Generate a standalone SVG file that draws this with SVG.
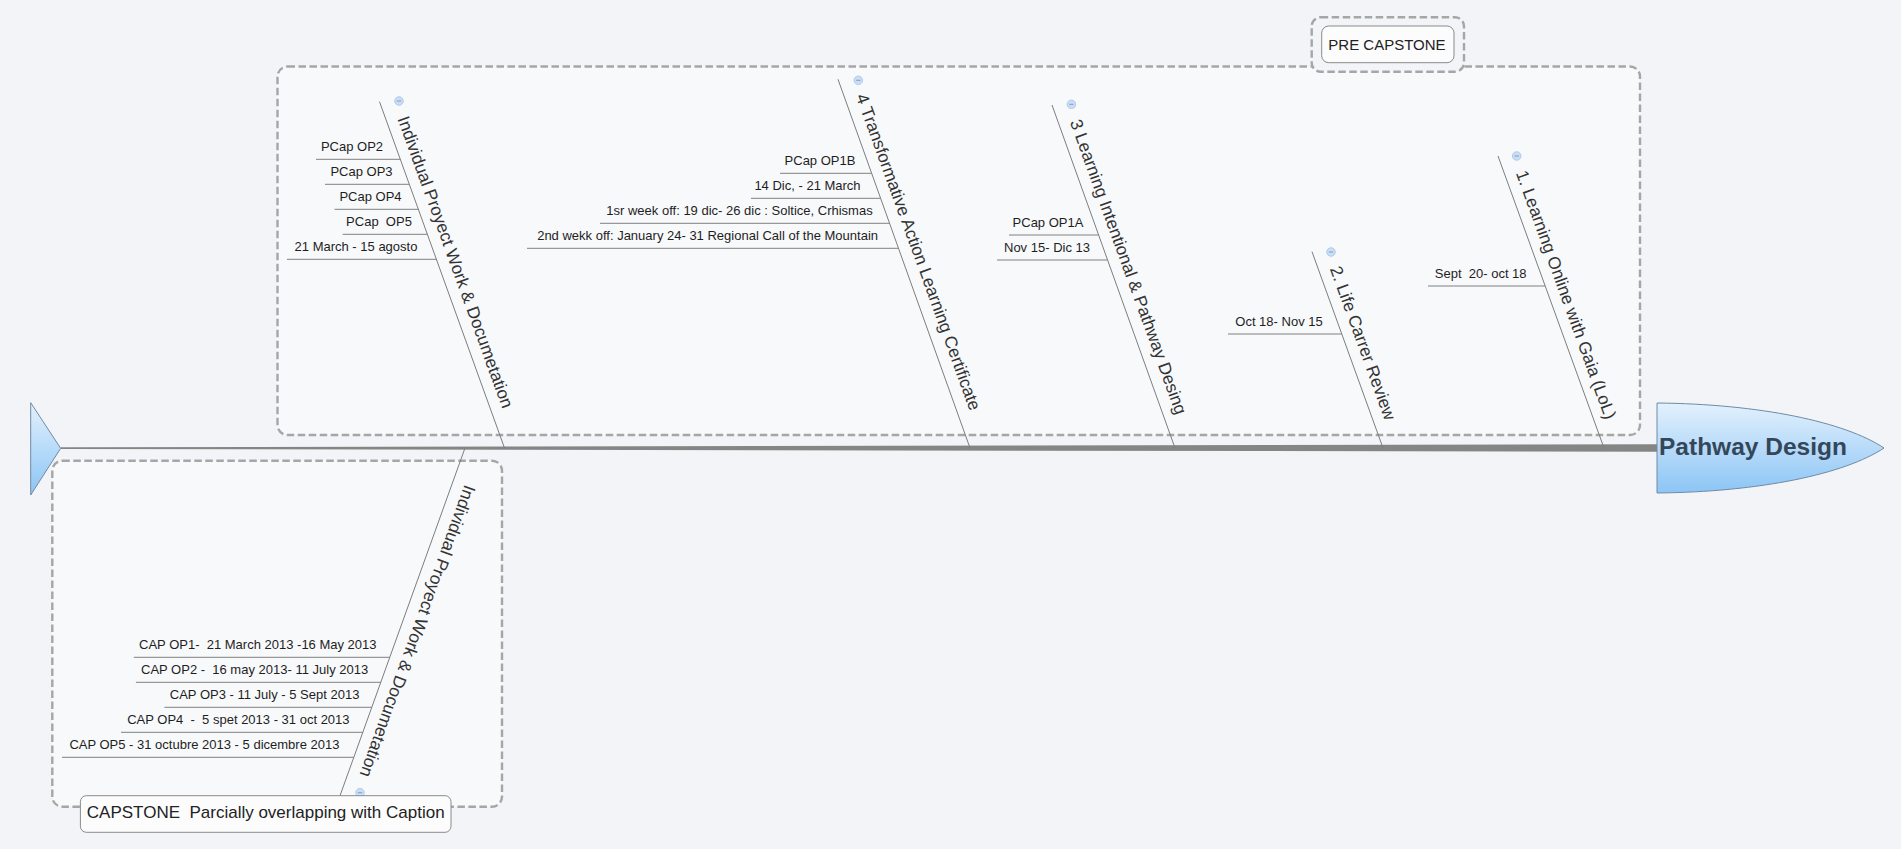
<svg xmlns="http://www.w3.org/2000/svg" width="1901" height="849" viewBox="0 0 1901 849">
<style>
.bg{fill:#f3f4f7}
.zone{fill:#f8f9fb;stroke:#a6a6a6;stroke-width:2.4;stroke-dasharray:7.5 3.5}
.zone2{fill:#f3f4f7;stroke:#a6a6a6;stroke-width:2.4;stroke-dasharray:7.5 3.5}
.cap{fill:#fcfcfd;stroke:#8a8a8a;stroke-width:1}
.bone{stroke:#7d7d7d;stroke-width:1;fill:none}
.sub{stroke:#808080;stroke-width:1;fill:none}
.t{font-family:"Liberation Sans",Arial,sans-serif;font-size:13px;fill:#1e1e1e;text-anchor:middle}
.b{font-family:"Liberation Sans",Arial,sans-serif;font-size:17.3px;fill:#333}
.c{font-family:"Liberation Sans",Arial,sans-serif;fill:#222;text-anchor:middle}
.m{fill:#c9ddf5;stroke:#a7c3e6;stroke-width:0.8}
.md{stroke:#6f8fb8;stroke-width:0.8}
.shape{fill:url(#blue);stroke:#6f8aa6;stroke-width:1}
</style>
<defs>
<linearGradient id="blue" x1="0" y1="0" x2="0" y2="1">
<stop offset="0" stop-color="#e3f1fd"/>
<stop offset="1" stop-color="#8cc5f5"/>
</linearGradient>
</defs>
<rect class="bg" x="0" y="0" width="1901" height="849"/>
<g id="zone-precapstone-area"><rect class="zone" x="277.5" y="66.5" width="1362.5" height="368.5" rx="10"/></g>
<g id="zone-capstone-area"><rect class="zone" x="52.3" y="460.7" width="449.7" height="346" rx="10"/></g>
<g id="connectors">
<polygon points="61,447.3 1657,444.2 1657,451.8 61,448.9" fill="#858585"/>
<line class="bone" x1="379.5" y1="101.7" x2="504.5" y2="448"/>
<line class="bone" x1="838" y1="79.3" x2="970" y2="448"/>
<line class="bone" x1="1052" y1="105" x2="1175" y2="448"/>
<line class="bone" x1="1312" y1="251.7" x2="1383" y2="448"/>
<line class="bone" x1="1498" y1="156" x2="1604" y2="448"/>
<line class="bone" x1="465" y1="448" x2="340" y2="795.7"/>
<path class="sub" d="M316,159.3H400.4M325,184.3H409.4M334.6,209.3H418.5M342.7,234.3H427.5M287,259.3H436.6"/>
<path class="sub" d="M780,173.3H871.7M751,198.3H880.6M600,223.3H889.6M527,248.3H898.5"/>
<path class="sub" d="M1009,235H1098.6M997,260H1107.6"/>
<path class="sub" d="M1228,334H1341.8"/>
<path class="sub" d="M1428,286H1545.2"/>
<path class="sub" d="M133.8,657.3H389.8M135.9,682.3H380.8M164.4,707.3H371.8M121,732.3H362.8M62,757.3H353.8"/>
</g>
<g id="tail"><polygon class="shape" points="30.7,402.7 60.7,448.3 30.7,495"/></g>
<g id="central-topic">
<path class="shape" d="M1657,403 C1760,404 1845,422 1884,448 C1845,474 1760,492 1657,493 Z"/>
<text x="1659" y="455" font-family="'Liberation Sans',Arial,sans-serif" font-size="24.5" font-weight="bold" fill="#34475a">Pathway Design</text>
</g>
<g id="branch-individual-pre">
<circle class="m" cx="399" cy="101" r="4.3"/><line class="md" x1="396.8" y1="101" x2="401.2" y2="101"/>
<text class="b" transform="translate(397.3,118.7) rotate(70.1)">Individual Proyect Work &amp; Documetation</text>
<text class="t" x="352" y="151.3">PCap OP2</text>
<text class="t" x="361.5" y="176.3">PCap OP3</text>
<text class="t" x="370.5" y="201.3">PCap OP4</text>
<text class="t" x="379" y="226.3" xml:space="preserve">PCap  OP5</text>
<text class="t" x="356" y="251.3">21 March - 15 agosto</text>
</g>
<g id="branch-4">
<circle class="m" cx="858.3" cy="80.3" r="4.3"/><line class="md" x1="856.1" y1="80.3" x2="860.5" y2="80.3"/>
<text class="b" transform="translate(855.8,96.3) rotate(70.1)">4 Transformative Action Learning Certificate</text>
<text class="t" x="820" y="165.3">PCap OP1B</text>
<text class="t" x="807.5" y="190.3">14 Dic, - 21 March</text>
<text class="t" x="739.5" y="215.3">1sr week off: 19 dic- 26 dic : Soltice, Crhismas</text>
<text class="t" x="707.6" y="240.3">2nd wekk off: January 24- 31 Regional Call of the Mountain</text>
</g>
<g id="branch-3">
<circle class="m" cx="1071.4" cy="104.3" r="4.3"/><line class="md" x1="1069.2" y1="104.3" x2="1073.6" y2="104.3"/>
<text class="b" transform="translate(1069.8,122) rotate(70.1)">3 Learning Intentional &amp; Pathway Desing</text>
<text class="t" x="1048" y="227">PCap OP1A</text>
<text class="t" x="1047" y="252">Nov 15- Dic 13</text>
</g>
<g id="branch-2">
<circle class="m" cx="1331" cy="252" r="4.3"/><line class="md" x1="1328.8" y1="252" x2="1333.2" y2="252"/>
<text class="b" transform="translate(1329.8,268.7) rotate(70.1)" font-size="16.6">2. Life Carrer Review</text>
<text class="t" x="1279" y="326">Oct 18- Nov 15</text>
</g>
<g id="branch-1">
<circle class="m" cx="1516.7" cy="156" r="4.3"/><line class="md" x1="1514.5" y1="156" x2="1518.9" y2="156"/>
<text class="b" transform="translate(1515.8,173) rotate(70.1)" font-size="16.6">1. Learning Online with Gaia (LoL)</text>
<text class="t" x="1480.7" y="278" xml:space="preserve">Sept  20- oct 18</text>
</g>
<g id="branch-individual-cap">
<circle class="m" cx="360" cy="792.7" r="4.3"/><line class="md" x1="357.8" y1="792.7" x2="362.2" y2="792.7"/>
<text class="b" transform="translate(464.7,484.1) rotate(109.9)">Individual Proyect Work &amp; Documetation</text>
<text class="t" x="257.8" y="649.3" xml:space="preserve">CAP OP1-  21 March 2013 -16 May 2013</text>
<text class="t" x="254.6" y="674.3" xml:space="preserve">CAP OP2 -  16 may 2013- 11 July 2013</text>
<text class="t" x="264.6" y="699.3">CAP OP3 - 11 July - 5 Sept 2013</text>
<text class="t" x="238.4" y="724.3" xml:space="preserve">CAP OP4  -  5 spet 2013 - 31 oct 2013</text>
<text class="t" x="204.4" y="749.3">CAP OP5 - 31 octubre 2013 - 5 dicembre 2013</text>
</g>
<g id="label-precapstone">
<rect class="zone2" x="1311.7" y="17.3" width="152.3" height="54.4" rx="9"/>
<rect class="cap" x="1321.7" y="26" width="132.3" height="36.7" rx="7"/>
<text class="c" x="1387" y="50" font-size="15">PRE CAPSTONE</text>
</g>
<g id="label-capstone">
<rect class="cap" x="80.4" y="795.7" width="370.6" height="36.6" rx="6"/>
<text class="c" x="265.7" y="818.3" font-size="17" xml:space="preserve">CAPSTONE  Parcially overlapping with Caption</text>
</g>
</svg>
